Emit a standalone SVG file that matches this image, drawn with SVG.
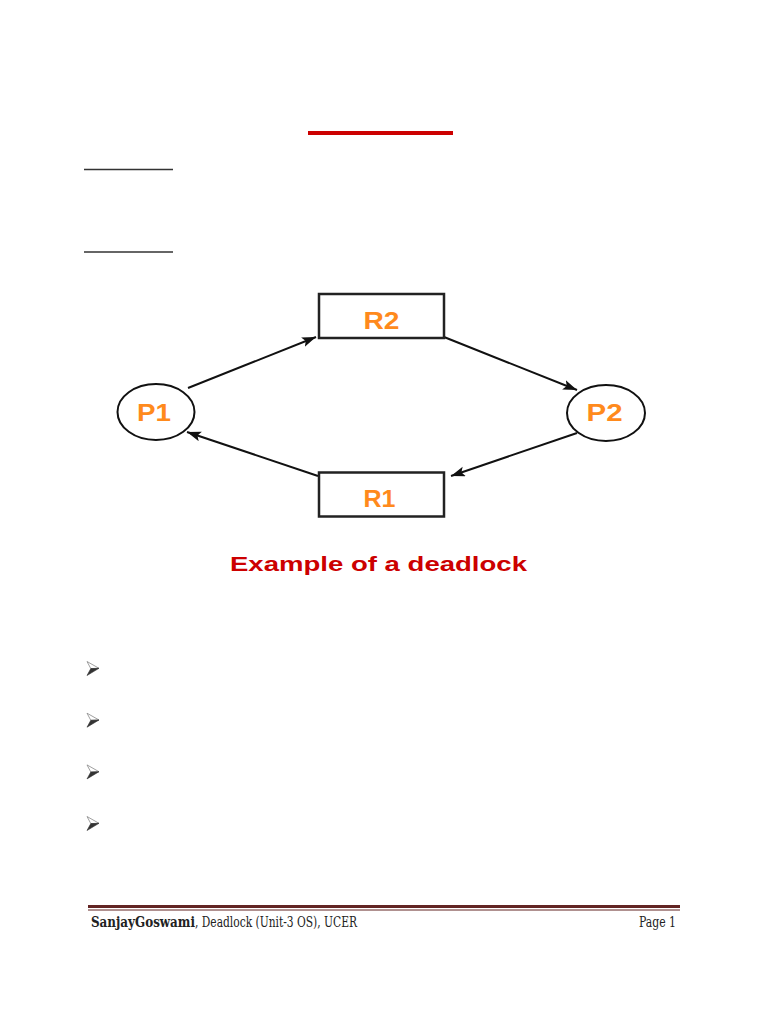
<svg xmlns="http://www.w3.org/2000/svg" width="768" height="1024" viewBox="0 0 768 1024">
  <defs>
    <style>
      .box { fill: #ffffff; stroke: #222222; stroke-width: 2.5; }
      .proc { fill: #ffffff; stroke: #111111; stroke-width: 2; }
      .lbl { font-family: "Liberation Sans", Arial, sans-serif; font-weight: bold; font-size: 24px; fill: #FF8A1C; text-anchor: middle; }
      .edge { stroke: #111111; stroke-width: 2; fill: none; marker-end: url(#arr); }
      .foot { font-family: "DejaVu Serif Condensed", "DejaVu Serif", "Liberation Serif", serif; font-size: 14px; fill: #222222; }
      .bl { fill: #ffffff; stroke: #888888; stroke-width: 0.8; }
      .bd { fill: #333333; stroke: #333333; stroke-width: 0.6; }
    </style>
    <marker id="arr" markerUnits="userSpaceOnUse" markerWidth="15" markerHeight="11" refX="14" refY="5" orient="auto">
      <path d="M0,0 L14,5 L0,10 L3,5 z" fill="#111111"/>
    </marker>
  </defs>
  <rect width="768" height="1024" fill="#ffffff"/>

  <!-- page decorations -->
  <rect x="308" y="131" width="145" height="4" fill="#CC0000"/>
  <line x1="84" y1="169.5" x2="173" y2="169.5" stroke="#333333" stroke-width="1.6"/>
  <line x1="84" y1="252" x2="173" y2="252" stroke="#333333" stroke-width="1.6"/>

  <!-- connectors -->
  <g id="connectors">
    <line class="edge" x1="188" y1="388" x2="316" y2="337"/>
    <line class="edge" x1="444" y1="337" x2="577" y2="390"/>
    <line class="edge" x1="577" y1="433" x2="451" y2="476"/>
    <line class="edge" x1="318" y1="476" x2="187" y2="432"/>
  </g>

  <g id="R2">
    <rect class="box" x="319" y="294" width="125" height="44"/>
    <text class="lbl" x="381.5" y="329" textLength="36" lengthAdjust="spacingAndGlyphs">R2</text>
  </g>
  <g id="R1">
    <rect class="box" x="319" y="472.5" width="125" height="44"/>
    <text class="lbl" x="379.5" y="507" textLength="32" lengthAdjust="spacingAndGlyphs">R1</text>
  </g>
  <g id="P1">
    <ellipse class="proc" cx="156" cy="412" rx="38.5" ry="28"/>
    <text class="lbl" x="154" y="420.5" textLength="34" lengthAdjust="spacingAndGlyphs">P1</text>
  </g>
  <g id="P2">
    <ellipse class="proc" cx="606" cy="413" rx="39" ry="28"/>
    <text class="lbl" x="604.5" y="420.5" textLength="36" lengthAdjust="spacingAndGlyphs">P2</text>
  </g>

  <text x="230" y="571" font-family="Liberation Sans, Arial, sans-serif" font-weight="bold" font-size="20.5" fill="#CC0000" textLength="297" lengthAdjust="spacingAndGlyphs">Example of a deadlock</text>

  <!-- bullets -->
  <g id="bullets">
    <g>
      <polygon class="bl" points="87,661.5 99,668.3 90.8,668.6"/>
      <polygon class="bd" points="90.8,668.6 99,668.3 87,675.5"/>
    </g>
    <g transform="translate(0,51.7)">
      <polygon class="bl" points="87,661.5 99,668.3 90.8,668.6"/>
      <polygon class="bd" points="90.8,668.6 99,668.3 87,675.5"/>
    </g>
    <g transform="translate(0,103.4)">
      <polygon class="bl" points="87,661.5 99,668.3 90.8,668.6"/>
      <polygon class="bd" points="90.8,668.6 99,668.3 87,675.5"/>
    </g>
    <g transform="translate(0,155)">
      <polygon class="bl" points="87,661.5 99,668.3 90.8,668.6"/>
      <polygon class="bd" points="90.8,668.6 99,668.3 87,675.5"/>
    </g>
  </g>

  <!-- footer -->
  <rect x="88" y="905" width="592" height="3" fill="#622423"/>
  <rect x="88" y="909.5" width="592" height="1" fill="#622423"/>
  <text class="foot" x="91" y="926.5" font-weight="bold" textLength="104" lengthAdjust="spacingAndGlyphs">SanjayGoswami</text>
  <text class="foot" x="195" y="926.5" textLength="162" lengthAdjust="spacingAndGlyphs">, Deadlock (Unit-3 OS), UCER</text>
  <text class="foot" x="639" y="926.5" textLength="37" lengthAdjust="spacingAndGlyphs">Page 1</text>
</svg>
